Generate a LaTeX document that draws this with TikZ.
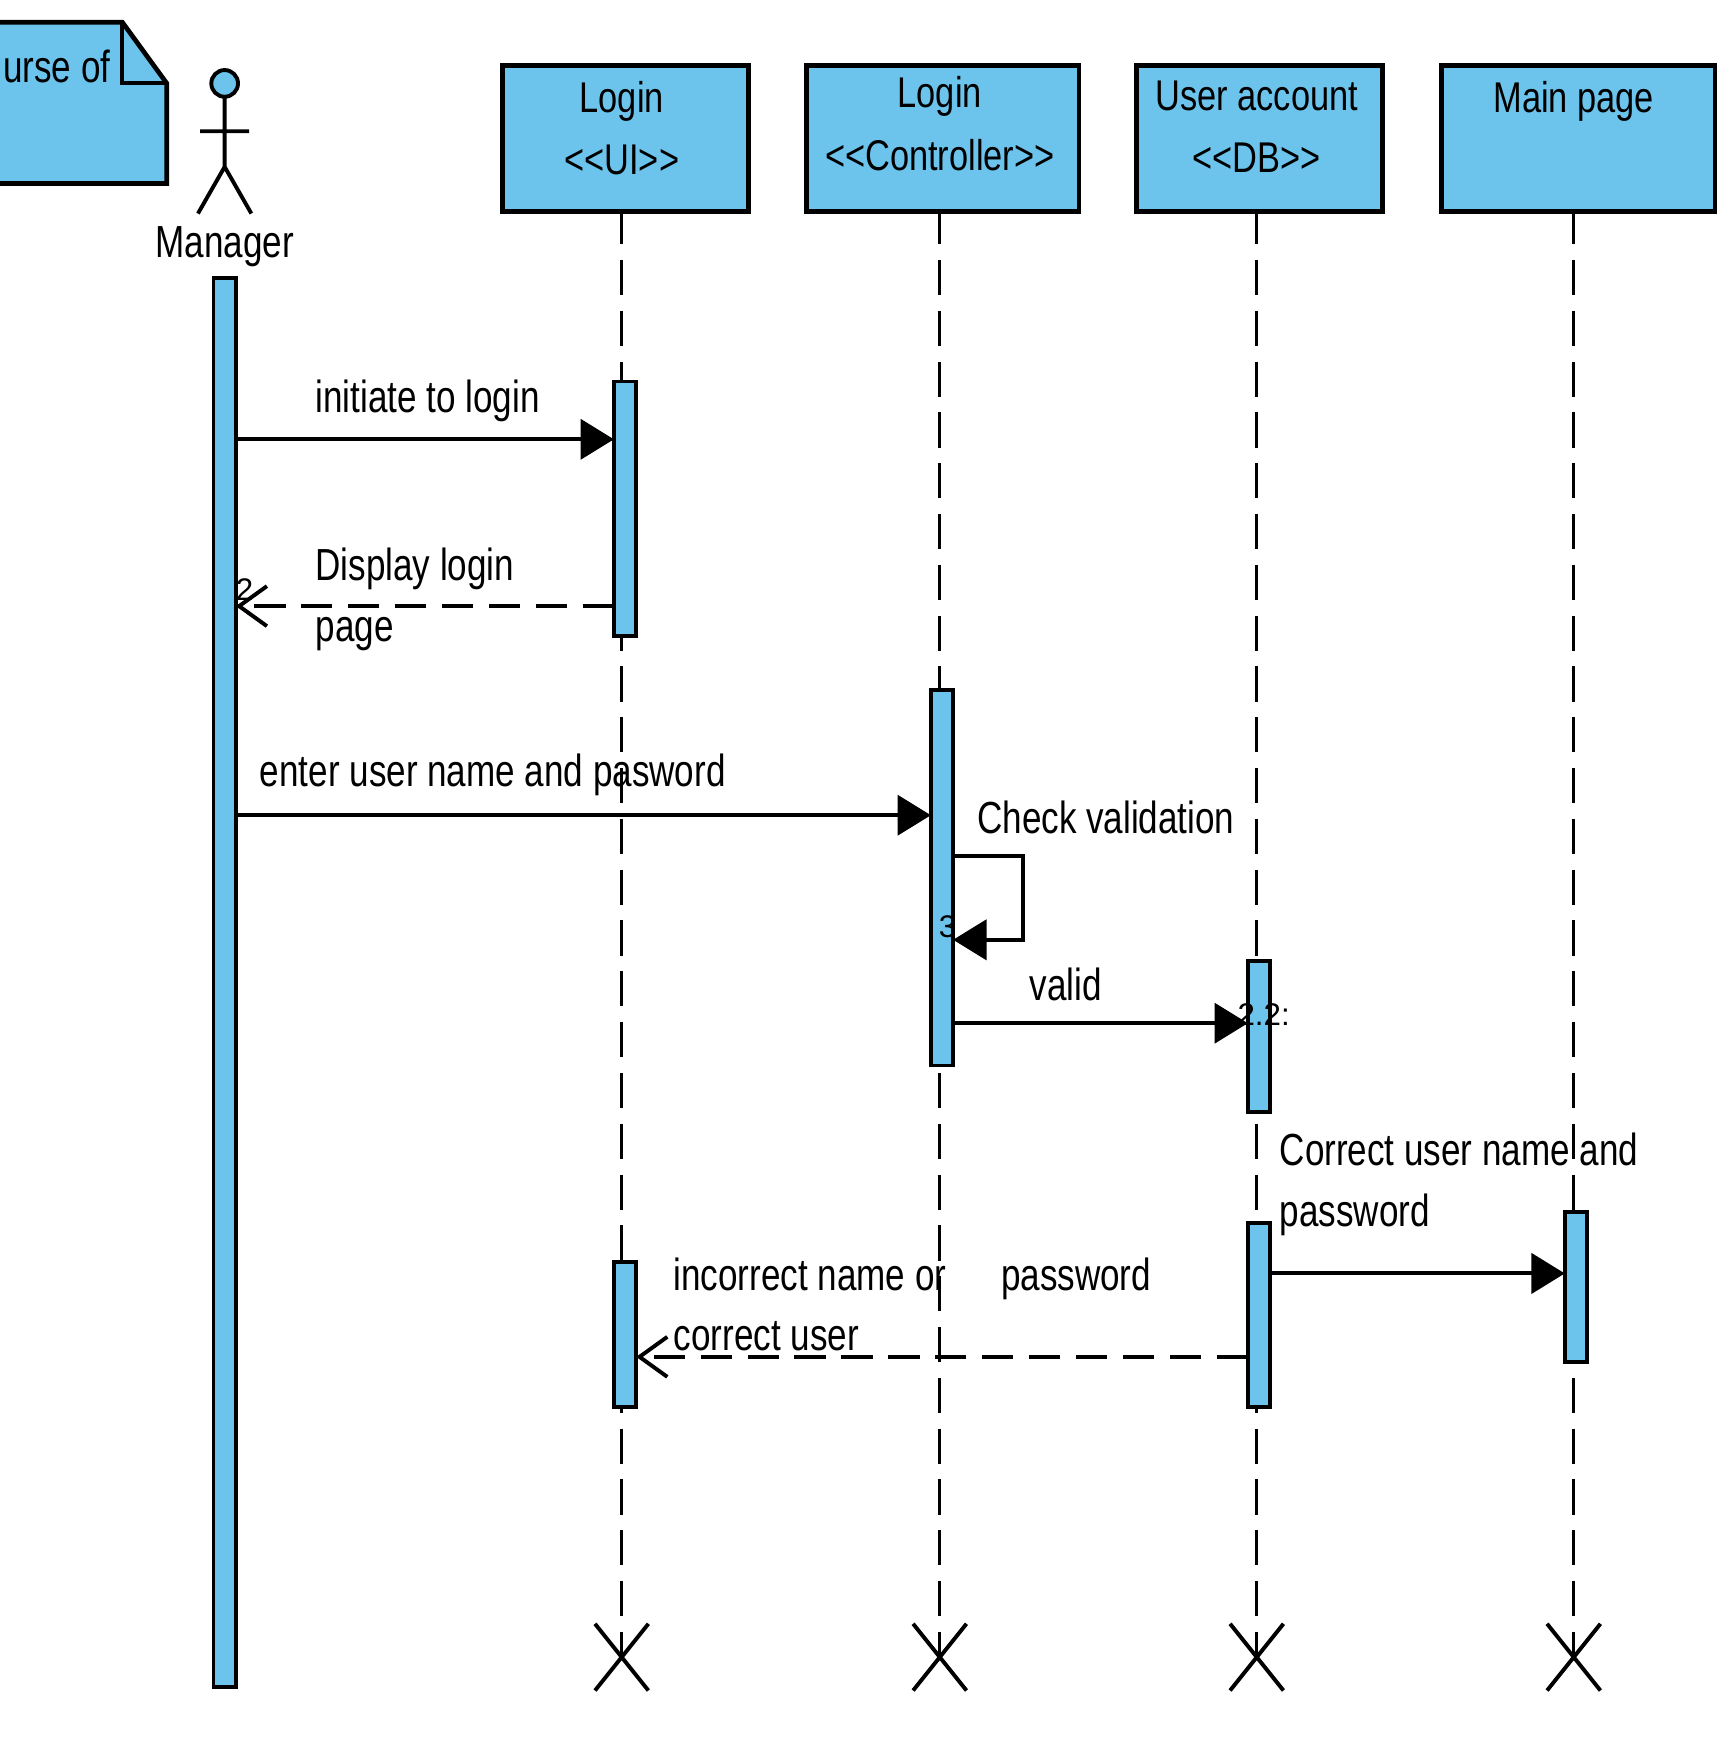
\documentclass[tikz,border=0pt]{standalone}
\usepackage{fontspec}
\setmainfont{Liberation Sans}
\usetikzlibrary{arrows.meta}
\definecolor{uml}{HTML}{6CC4EC}
\newcommand{\myll}{<\kern0pt<}
\newcommand{\mygg}{>\kern0pt>}
\begin{document}
\begin{tikzpicture}[x=0.1mm,y=-0.1mm,
  txt/.style={font=\fontsize{11.5}{15.5}\selectfont\addfontfeature{FakeStretch=0.78},inner sep=0pt},
  box/.style={draw,line width=1.2pt,fill=uml,minimum width=221*0.1mm,minimum height=131*0.1mm,anchor=north west,inner sep=0pt},
  btxt/.style={font=\fontsize{11}{16}\selectfont\addfontfeature{FakeStretch=0.8},align=center,inner sep=0pt,anchor=north},
  act/.style={draw,line width=1pt,fill=uml},
  life/.style={dash pattern=on 9pt off 4pt,line width=0.8pt},
  msg/.style={line width=1pt,-{Triangle[length=3mm,width=3.6mm]}},
  ret/.style={line width=1pt,dash pattern=on 8pt off 4pt,-{Straight Barb[length=2.5mm,width=3.6mm]}},
  small/.style={font=\fontsize{8}{9}\selectfont,inner sep=0pt}]
\useasboundingbox[fill=white] (0,0) rectangle (1545,1569);
% note
\draw[line width=1.2pt,fill=uml] (-5,20) -- (110,20) -- (150,75) -- (150,165) -- (-5,165) -- cycle;
\draw[line width=1pt] (110,20) -- (110,75) -- (150,75);
\node[txt,anchor=east] (note) at (100,60) {urse of};
% actor
\draw[line width=1pt,fill=uml] (202,75) circle[radius=12];
\draw[line width=1pt] (202,87) -- (202,150) (180,118) -- (224,118) (178,192) -- (202,150) -- (226,192);
\node[txt] (mgr) at (202,222) {Manager};
\draw[act] (192,250) rectangle (212,1517);
% lifelines
\foreach \x/\n in {559/a,845/b,1130/c,1415/d}{
  \draw[life] (\x,188) -- (\x,1490);
  \draw[line width=1pt] (\x-24,1460) -- (\x+24,1520) (\x+24,1460) -- (\x-24,1520);
}
% boxes
\node[box] (ui) at (450,57) {};
\node[box,minimum width=245*0.1mm] (ctl) at (723,57) {};
\node[box] (db) at (1020,57) {};
\node[box,minimum width=246*0.1mm] (mp) at (1294,57) {};
\node[btxt] at (559,72) {Login\\\myll UI\mygg};
\node[btxt] at (845,68) {Login\\\myll Controller\mygg};
\node[btxt] at (1130,72) {User account\\\myll DB\mygg};
\node[btxt] at (1415,72) {Main page};
% activations
\draw[act] (552,343) rectangle (572,572);
\draw[act] (552,1135) rectangle (572,1265);
\draw[act] (837,620) rectangle (857,958);
\draw[act] (1122,864) rectangle (1142,1000);
\draw[act] (1122,1100) rectangle (1142,1265);
\draw[act] (1407,1090) rectangle (1427,1225);
% messages
\coordinate (m1s) at (212,395); \coordinate (m1e) at (552,395);
\draw[msg] (m1s) -- (m1e);
\node[txt,anchor=west] at (283,360) {initiate to login};
\coordinate (m2s) at (552,545); \coordinate (m2e) at (212,545);
\draw[ret] (m2s) -- (m2e);
\node[txt,anchor=north west,align=left] at (283,492) {Display login\\page};
\node[small] at (220,530) {2};
\coordinate (m3s) at (212,733); \coordinate (m3e) at (837,733);
\draw[msg] (m3s) -- (m3e);
\node[txt,anchor=west] at (233,697) {enter user name and pasword};
\coordinate (s1) at (857,770); \coordinate (s2) at (857,845);
\draw[msg] (s1) -- (920,770) -- (920,845) -- (s2);
\node[txt,anchor=west] at (878,735) {Check validation};
\node[small] at (852,833) {3};
\coordinate (m5s) at (857,920); \coordinate (m5e) at (1122,920);
\draw[msg] (m5s) -- (m5e);
\node[txt,anchor=west] at (925,885) {valid};
\node[small,anchor=west] at (1112,912) {2.2:};
\coordinate (m6s) at (1142,1145); \coordinate (m6e) at (1407,1145);
\draw[msg] (m6s) -- (m6e);
\node[txt,anchor=north west,align=left] at (1150,1018) {Correct user name and\\password};
\coordinate (m7s) at (1122,1220); \coordinate (m7e) at (572,1220);
\draw[ret] (m7s) -- (m7e);
\node[txt,anchor=north west,align=left] at (605,1130) {incorrect name or\quad\ password\\correct user};
\end{tikzpicture}
\end{document}
